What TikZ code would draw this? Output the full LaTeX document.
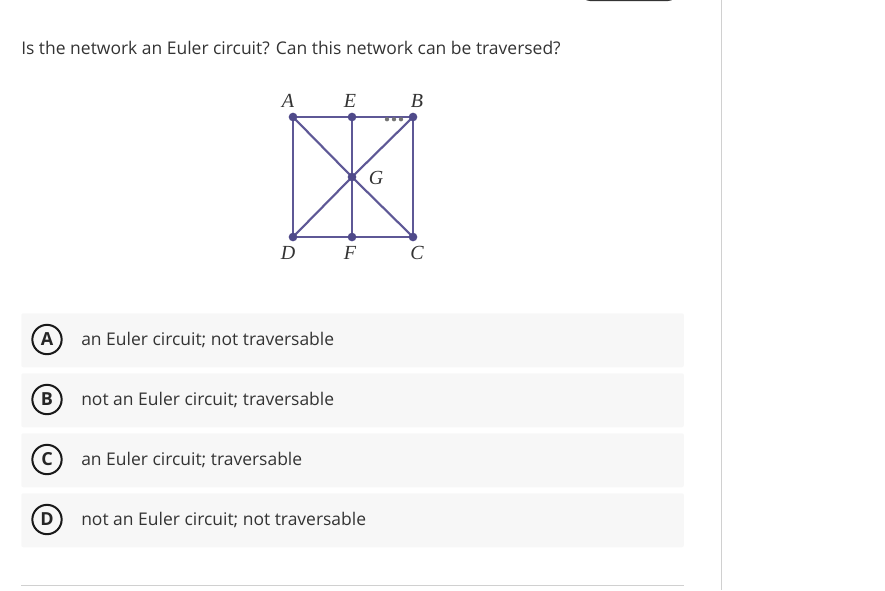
\documentclass[tikz,border=0pt]{standalone}
\usepackage{fontspec}
\setmainfont{Open Sans}
\newfontfamily\graphfont{Liberation Serif}
\definecolor{edgec}{HTML}{5E5896}
\definecolor{nodec}{HTML}{4F4A8A}
\definecolor{optbg}{HTML}{F7F7F7}
\definecolor{rulec}{HTML}{D0D0D0}
\definecolor{txt}{HTML}{333333}
\begin{document}
\begin{tikzpicture}[x=0.75pt,y=-0.75pt,
  vtx/.style={circle,fill=nodec,inner sep=0pt,minimum size=6.5pt},
  edge/.style={draw=edgec,line width=1.6pt},
  vlab/.style={font=\graphfont\itshape\fontsize{15}{17}\selectfont,text=black!80},
  optbox/.style={fill=optbg,draw=none,rounded corners=1.5pt,minimum width=497pt,minimum height=40.5pt,inner sep=0pt,anchor=north west},
  letter/.style={circle,draw=black!90,line width=1.5pt,minimum size=22pt,inner sep=0pt,font=\bfseries\fontsize{13.5}{15}\selectfont,text=black!85},
  opttext/.style={anchor=west,font=\fontsize{13.1}{15}\selectfont,text=txt,inner sep=0pt}]
\useasboundingbox (0,0) rectangle (885,590);
% top button edge and right rule
\node[draw=black!80,line width=1pt,rounded corners=6pt,minimum width=70.5pt,minimum height=24pt,inner sep=0pt,anchor=south] (btn) at (629,1) {};
\draw[rulec,line width=0.75pt] (721.5,0) -- (721.5,590);
% question
\node[anchor=west,inner sep=0pt,font=\fontsize{13.1}{15}\selectfont,text=txt] (q) at (21,48) {Is the network an Euler circuit? Can this network can be traversed?};
% graph
\coordinate (A) at (293,117);
\coordinate (E) at (352,117);
\coordinate (B) at (413,117);
\coordinate (D) at (293,237);
\coordinate (F) at (352,237);
\coordinate (C) at (413,237);
\coordinate (G) at (352,177);
\draw[edge] (A) -- (E) -- (B) -- (C) -- (F) -- (D) -- (A);
\draw[edge] (A) -- (G) -- (C);
\draw[edge] (B) -- (G) -- (D);
\draw[edge] (E) -- (G) -- (F);
\foreach \v in {A,E,B,D,F,C,G}{\node[vtx] (n\v) at (\v) {};}
\foreach \x in {387,394,401}{\fill[black!55] (\x,119.3) circle (1.6pt);}
\node[vlab] (lA) at (288,101) {A};
\node[vlab] (lE) at (350,101) {E};
\node[vlab] (lB) at (417,101) {B};
\node[vlab] (lD) at (288,253) {D};
\node[vlab] (lF) at (350,253) {F};
\node[vlab] (lC) at (417,253) {C};
\node[vlab] (lG) at (376,178) {G};
% options
\node[optbox] (bA) at (21,313) {};
\node[optbox] (bB) at (21,373) {};
\node[optbox] (bC) at (21,433) {};
\node[optbox] (bD) at (21,493) {};
\node[letter] (cA) at (47,339.5) {A};
\node[letter] (cB) at (47,399.5) {B};
\node[letter] (cC) at (47,459.5) {C};
\node[letter] (cD) at (47,519.5) {D};
\node[opttext] (tA) at (81,340) {an Euler circuit; not traversable};
\node[opttext] (tB) at (81,400) {not an Euler circuit; traversable};
\node[opttext] (tC) at (81,460) {an Euler circuit; traversable};
\node[opttext] (tD) at (81,520) {not an Euler circuit; not traversable};
\draw[rulec,line width=0.75pt] (21,585.5) -- (684,585.5);
\end{tikzpicture}
\end{document}
